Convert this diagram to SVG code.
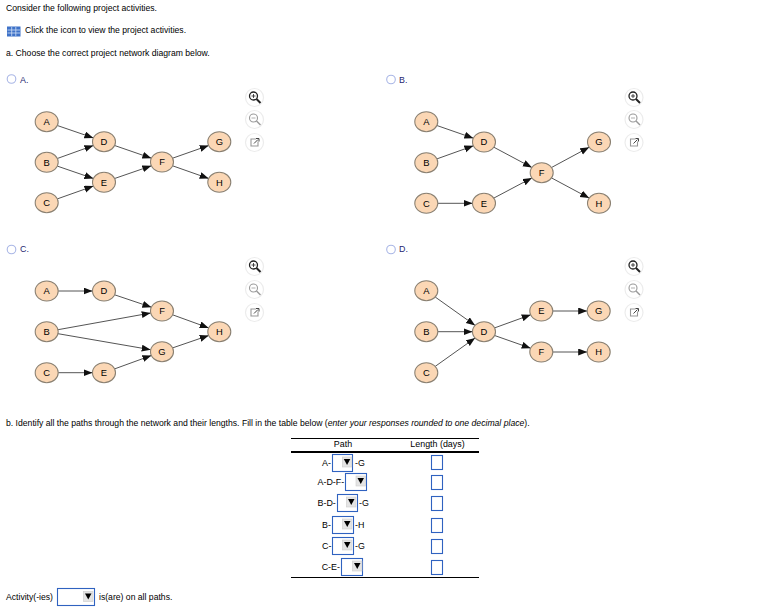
<svg xmlns="http://www.w3.org/2000/svg" width="766" height="616" viewBox="0 0 766 616">
<style>
text{font-family:"Liberation Sans",Arial,sans-serif;fill:#000}
.t{font-size:8.65px}
.c{font-size:8.9px}
.o{font-size:8.9px;fill:#1f1f70}
.n ellipse{fill:#fbd7b5;stroke:#8a8072;stroke-width:1.1}
.n text{font-size:9.4px;text-anchor:middle}
.e line{stroke:#555;stroke-width:1;marker-end:url(#a)}
.r{fill:#fff;stroke:#a9b6e6;stroke-width:1.1}
.b{fill:#fff;stroke:#2f62c0;stroke-width:1.1}
.btn{fill:#e4e4e4;stroke:#ccc;stroke-width:.6}
.tri{fill:#000}
.rule{stroke:#000}
.ic{fill:#fff;stroke:#ececec;stroke-width:1.2}
.g{fill:none;stroke:#222}
.g2{fill:none;stroke:#999}
.m{text-anchor:middle}
</style>
<defs>
<marker id="a" markerUnits="userSpaceOnUse" markerWidth="10" markerHeight="8" refX="9" refY="3.5" orient="auto"><path d="M0 0L9 3.500L0 7Z" fill="#111"/></marker>
<g id="zi"><circle r="9" class="ic"/><circle cx="-1" cy="-1.500" r="4" class="g" stroke-width="1.300"/><path d="M2 1.500L6 5.500" class="g" stroke-width="2"/><path d="M-3 -1.500H1M-1 -3.500V.5" class="g" stroke-width=".8"/></g>
<g id="zo"><circle r="9" class="ic"/><circle cx="-1" cy="-1.500" r="4" class="g2" stroke-width="1.100"/><path d="M2 1.500L6 5.500" class="g2" stroke-width="1.500"/><path d="M-3 -1.500H1" class="g2" stroke-width=".8"/></g>
<g id="ex"><circle r="9" class="ic"/><path d="M1.500 -3.500H-3.500V3.500H3.500V-1" class="g2" stroke-width="1.100"/><path d="M-.5 1L3.500 -3M1.500 -4H4.500V-1" fill="none" stroke="#444" stroke-width="1"/></g>
<g id="dd"><rect class="btn" x="0" y="0" width="9.500" height="10"/><path class="tri" d="M1.500 2H8L4.750 8Z"/></g>
</defs>

<text class="t" x="6" y="11">Consider the following project activities.</text>
<g id="grid-icon"><rect x="7.500" y="27" width="12.500" height="9" fill="#3f72c8" stroke="#3f72c8"/><path d="M7.500 30H20M7.500 33H20M11.700 27V36M15.800 27V36" stroke="#cfe0f5" stroke-width=".8"/></g>
<text class="t" x="25" y="33">Click the icon to view the project activities.</text>
<text class="t" x="6" y="56">a. Choose the correct project network diagram below.</text>

<circle class="r" cx="11.500" cy="79" r="4.300"/><text class="o" x="20" y="82.500">A.</text>
<circle class="r" cx="391" cy="79.500" r="4.300"/><text class="o" x="399" y="82.500">B.</text>
<circle class="r" cx="11.500" cy="249.500" r="4.300"/><text class="o" x="20" y="252">C.</text>
<circle class="r" cx="391" cy="249.500" r="4.300"/><text class="o" x="399" y="252">D.</text>

<use href="#zi" x="254.500" y="97.500"/><use href="#zo" x="254.500" y="119.500"/><use href="#ex" x="254.500" y="142.500"/>
<use href="#zi" x="634" y="97.500"/><use href="#zo" x="634" y="119.500"/><use href="#ex" x="634" y="142.500"/>
<use href="#zi" x="254.500" y="266.500"/><use href="#zo" x="254.500" y="289.500"/><use href="#ex" x="254.500" y="312.500"/>
<use href="#zi" x="634" y="266.500"/><use href="#zo" x="634" y="289.500"/><use href="#ex" x="634" y="312.500"/>

<g id="connectors" class="e">
<line x1="57.300" y1="125.500" x2="93.400" y2="137.900"/><line x1="57.300" y1="158.500" x2="93.400" y2="145.500"/><line x1="57.300" y1="166.100" x2="93.400" y2="178.500"/><line x1="57.300" y1="198.900" x2="93.400" y2="186.100"/><line x1="114.600" y1="145.500" x2="151.400" y2="158.200"/><line x1="114.600" y1="178.500" x2="151.400" y2="165.800"/><line x1="172.600" y1="158.200" x2="208.700" y2="145.500"/><line x1="172.600" y1="165.800" x2="208.700" y2="178.500"/>
<line x1="436.900" y1="125.500" x2="473.400" y2="138.200"/><line x1="436.900" y1="158.900" x2="473.400" y2="145.800"/><line x1="437.800" y1="203.300" x2="472.500" y2="203.300"/><line x1="493.800" y1="147.200" x2="531.900" y2="167.500"/><line x1="493.800" y1="198.100" x2="531.900" y2="177.900"/><line x1="551.500" y1="167.500" x2="589.200" y2="147.200"/><line x1="551.500" y1="177.900" x2="589.200" y2="198.100"/>
<line x1="58.200" y1="291" x2="92.500" y2="291"/><line x1="114.600" y1="294.800" x2="151.400" y2="307.200"/><line x1="58" y1="329.700" x2="150.700" y2="313"/><line x1="58" y1="333.700" x2="150.700" y2="349.700"/><line x1="58.200" y1="372.700" x2="92.500" y2="372.700"/><line x1="114.600" y1="368.900" x2="151.400" y2="355.500"/><line x1="172.600" y1="314.800" x2="208.700" y2="327.900"/><line x1="172.600" y1="347.900" x2="208.700" y2="335.500"/>
<line x1="435.200" y1="297" x2="475.100" y2="325.400"/><line x1="437.800" y1="331.700" x2="472.500" y2="331.700"/><line x1="435.200" y1="366.400" x2="475.100" y2="338"/><line x1="494.600" y1="327.900" x2="530.700" y2="314.800"/><line x1="494.600" y1="335.500" x2="530.700" y2="348.200"/><line x1="552.800" y1="311" x2="587.200" y2="311"/><line x1="552.800" y1="352" x2="587.200" y2="352"/>
</g>

<g id="diagram-a" class="n">
<g id="a-A"><ellipse cx="46.700" cy="121.700" rx="11.500" ry="10"/><text x="46.700" y="125">A</text></g>
<g id="a-B"><ellipse cx="46.700" cy="162.300" rx="11.500" ry="10"/><text x="46.700" y="165.600">B</text></g>
<g id="a-C"><ellipse cx="46.700" cy="202.700" rx="11.500" ry="10"/><text x="46.700" y="206">C</text></g>
<g id="a-D"><ellipse cx="104" cy="141.700" rx="11.500" ry="10"/><text x="104" y="145">D</text></g>
<g id="a-E"><ellipse cx="104" cy="182.300" rx="11.500" ry="10"/><text x="104" y="185.600">E</text></g>
<g id="a-F"><ellipse cx="162" cy="162" rx="11.500" ry="10"/><text x="162" y="165.300">F</text></g>
<g id="a-G"><ellipse cx="219.300" cy="141.700" rx="11.500" ry="10"/><text x="219.300" y="145">G</text></g>
<g id="a-H"><ellipse cx="219.300" cy="182.300" rx="11.500" ry="10"/><text x="219.300" y="185.600">H</text></g>
</g>
<g id="diagram-b" class="n">
<g id="b-A"><ellipse cx="426.300" cy="121.700" rx="11.500" ry="10"/><text x="426.300" y="125">A</text></g>
<g id="b-B"><ellipse cx="426.300" cy="162.700" rx="11.500" ry="10"/><text x="426.300" y="166">B</text></g>
<g id="b-C"><ellipse cx="426.300" cy="203.300" rx="11.500" ry="10"/><text x="426.300" y="206.600">C</text></g>
<g id="b-D"><ellipse cx="484" cy="142" rx="11.500" ry="10"/><text x="484" y="145.300">D</text></g>
<g id="b-E"><ellipse cx="484" cy="203.300" rx="11.500" ry="10"/><text x="484" y="206.600">E</text></g>
<g id="b-F"><ellipse cx="541.700" cy="172.700" rx="11.500" ry="10"/><text x="541.700" y="176">F</text></g>
<g id="b-G"><ellipse cx="599" cy="142" rx="11.500" ry="10"/><text x="599" y="145.300">G</text></g>
<g id="b-H"><ellipse cx="599" cy="203.300" rx="11.500" ry="10"/><text x="599" y="206.600">H</text></g>
</g>
<g id="diagram-c" class="n">
<g id="c-A"><ellipse cx="46.700" cy="291" rx="11.500" ry="10"/><text x="46.700" y="294.300">A</text></g>
<g id="c-B"><ellipse cx="46.700" cy="331.700" rx="11.500" ry="10"/><text x="46.700" y="335">B</text></g>
<g id="c-C"><ellipse cx="46.700" cy="372.700" rx="11.500" ry="10"/><text x="46.700" y="376">C</text></g>
<g id="c-D"><ellipse cx="104" cy="291" rx="11.500" ry="10"/><text x="104" y="294.300">D</text></g>
<g id="c-E"><ellipse cx="104" cy="372.700" rx="11.500" ry="10"/><text x="104" y="376">E</text></g>
<g id="c-F"><ellipse cx="162" cy="311" rx="11.500" ry="10"/><text x="162" y="314.300">F</text></g>
<g id="c-G"><ellipse cx="162" cy="351.700" rx="11.500" ry="10"/><text x="162" y="355">G</text></g>
<g id="c-H"><ellipse cx="219.300" cy="331.700" rx="11.500" ry="10"/><text x="219.300" y="335">H</text></g>
</g>
<g id="diagram-d" class="n">
<g id="d-A"><ellipse cx="426.300" cy="290.700" rx="11.500" ry="10"/><text x="426.300" y="294">A</text></g>
<g id="d-B"><ellipse cx="426.300" cy="331.700" rx="11.500" ry="10"/><text x="426.300" y="335">B</text></g>
<g id="d-C"><ellipse cx="426.300" cy="372.700" rx="11.500" ry="10"/><text x="426.300" y="376">C</text></g>
<g id="d-D"><ellipse cx="484" cy="331.700" rx="11.500" ry="10"/><text x="484" y="335">D</text></g>
<g id="d-E"><ellipse cx="541.300" cy="311" rx="11.500" ry="10"/><text x="541.300" y="314.300">E</text></g>
<g id="d-F"><ellipse cx="541.300" cy="352" rx="11.500" ry="10"/><text x="541.300" y="355.300">F</text></g>
<g id="d-G"><ellipse cx="598.700" cy="311" rx="11.500" ry="10"/><text x="598.700" y="314.300">G</text></g>
<g id="d-H"><ellipse cx="598.700" cy="352" rx="11.500" ry="10"/><text x="598.700" y="355.300">H</text></g>
</g>

<text class="t" x="6" y="426">b. Identify all the paths through the network and their lengths. Fill in the table below (<tspan font-style="italic">enter your responses rounded to one decimal place</tspan>).</text>

<g id="table">
<path class="rule" stroke-width="1" d="M291 438.500H479M291 577.500H479"/><path class="rule" stroke-width="2" d="M291 452H479"/>
<text class="c m" x="343" y="447">Path</text><text class="c m" x="437.500" y="447">Length (days)</text>

<text class="c" x="322" y="466">A-</text><rect class="b" x="332.500" y="454.500" width="20" height="17"/><use href="#dd" x="342.300" y="457"/><text class="c" x="355" y="466">-G</text>
<text class="c" x="317.500" y="485">A-D-F-</text><rect class="b" x="345.500" y="473.500" width="21" height="17"/><use href="#dd" x="356" y="476"/>
<text class="c" x="317.500" y="506">B-D-</text><rect class="b" x="337.500" y="494.500" width="20" height="17"/><use href="#dd" x="346.500" y="497"/><text class="c" x="359" y="506">-G</text>
<text class="c" x="322" y="528">B-</text><rect class="b" x="332.500" y="516.500" width="21" height="17"/><use href="#dd" x="342.500" y="519"/><text class="c" x="355" y="528">-H</text>
<text class="c" x="322" y="549">C-</text><rect class="b" x="332.500" y="537.500" width="21" height="17"/><use href="#dd" x="342.500" y="540"/><text class="c" x="355" y="549">-G</text>
<text class="c" x="321.700" y="570">C-E-</text><rect class="b" x="341.500" y="558.500" width="21" height="17"/><use href="#dd" x="352.500" y="561"/>

<rect class="b" x="431.500" y="455.500" width="11" height="14"/><rect class="b" x="431.500" y="475.500" width="11" height="14"/><rect class="b" x="431.500" y="496.500" width="11" height="14"/><rect class="b" x="431.500" y="518.500" width="11" height="14"/><rect class="b" x="431.500" y="539.500" width="11" height="14"/><rect class="b" x="431.500" y="560.500" width="11" height="14"/>
</g>

<text class="t" x="6" y="600">Activity(-ies)</text><rect class="b" x="57.500" y="588.500" width="37" height="17"/><use href="#dd" x="83.500" y="591.500"/><text class="t" x="99" y="600">is(are) on all paths.</text>
</svg>
